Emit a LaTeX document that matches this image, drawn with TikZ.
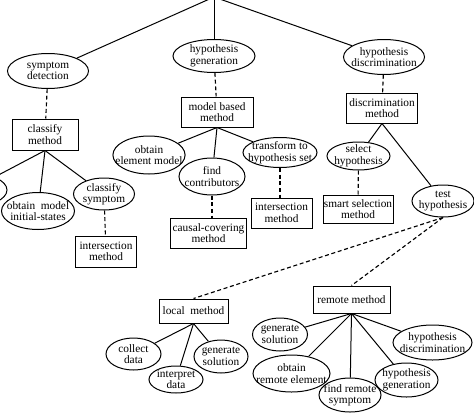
\documentclass[tikz,border=0pt]{standalone}
\usepackage{fontspec}
\setmainfont{Liberation Serif}
\usetikzlibrary{shapes.geometric}
\tikzset{
  ell/.style={draw, ellipse, inner sep=-6pt, align=center, font=\fontsize{8.5}{8.6}\selectfont},
  box/.style={draw, rectangle, inner sep=0pt, align=center, font=\fontsize{8.5}{8.6}\selectfont},
  link/.style={line width=0.75pt},
  dlink/.style={line width=0.85pt, dash pattern=on 3pt off 2pt},
}
\begin{document}
\begin{tikzpicture}[x=0.75pt,y=-0.75pt, line width=0.75pt]
\useasboundingbox (0,0) rectangle (474,414);
\clip (0,0) rectangle (474,414);
\coordinate (root) at (214,-3);
% level 1
\node[ell, minimum width=60.75pt, minimum height=26.25pt] (sd) at (48,71) {symptom\\detection};
\node[ell, minimum width=61.5pt, minimum height=24.75pt] (hg) at (214,56) {hypothesis\\generation};
\node[ell, minimum width=60.75pt, minimum height=26.25pt] (hd) at (384,57) {hypothesis\\discrimination};
% level 2
\node[box, minimum width=49.5pt, minimum height=23.25pt] (cm) at (45,134.5) {classify\\method};
\node[box, minimum width=54pt, minimum height=22.5pt] (mbm) at (217,112) {model based\\method};
\node[box, minimum width=53.25pt, minimum height=22.5pt] (dm) at (382,108) {discrimination\\method};
% classify children
\node[ell, minimum width=55.5pt, minimum height=25.5pt] (lp) at (-30,190) {};
\node[ell, minimum width=54.75pt, minimum height=27.75pt] (omi) at (38,211) {obtain\ \ model\\initial-states};
\node[ell, minimum width=45.75pt, minimum height=24pt] (cs) at (104,194) {classify\\symptom};
\node[box, minimum width=45.75pt, minimum height=23.25pt] (im1) at (106,251.5) {intersection\\method};
% model based children
\node[ell, minimum width=53.25pt, minimum height=28.5pt] (oem) at (149,155) {obtain\\element model};
\node[ell, minimum width=49.5pt, minimum height=27.75pt] (fc) at (212,176.5) {find\\contributors};
\node[ell, minimum width=55.5pt, minimum height=22.5pt] (th) at (280,152.5) {transform to\\hypothesis set};
\node[box, minimum width=57pt, minimum height=22.5pt] (ccm) at (208.5,233) {causal-covering\\method};
\node[box, minimum width=45.75pt, minimum height=22.5pt] (im2) at (281.5,213) {intersection\\method};
% discrimination children
\node[ell, minimum width=47.25pt, minimum height=21pt] (sh) at (358.5,156) {select\\hypothesis};
\node[box, minimum width=52.5pt, minimum height=21pt] (ssm) at (358,209) {smart selection\\method};
\node[ell, minimum width=46.5pt, minimum height=24pt] (test) at (443,201) {test\\hypothesis};
% methods
\node[box, minimum width=51.75pt, minimum height=18pt] (lm) at (193.5,311) {local\ \ method};
\node[box, minimum width=57.75pt, minimum height=20.25pt] (rm) at (351.5,299.5) {remote method};
% local children
\node[ell, minimum width=41.25pt, minimum height=24pt] (cd) at (133.5,354) {collect\\data};
\node[ell, minimum width=40.5pt, minimum height=20.25pt] (id) at (176,379.5) {interpret\\data};
\node[ell, minimum width=40.5pt, minimum height=24.75pt] (gs1) at (221,356.5) {generate\\solution};
% remote children
\node[ell, minimum width=41.25pt, minimum height=24.75pt] (gs2) at (280,334.5) {generate\\solution};
\node[ell, minimum width=57.75pt, minimum height=27.75pt] (ore) at (291.5,373.5) {obtain\\remote element};
\node[ell, minimum width=46.5pt, minimum height=25.5pt] (frs) at (350,395) {find remote\\symptom};
\node[ell, minimum width=47.25pt, minimum height=25.5pt] (hg2) at (406.5,380) {hypothesis\\generation};
\node[ell, minimum width=59.25pt, minimum height=26.25pt] (hd2) at (432.5,342.5) {hypothesis\\discrimination};
% connectors
\draw[link] (root) -- (sd);
\draw[link] (root) -- (hg);
\draw[link] (root) -- (hd);
\draw[dlink] (sd) -- (cm);
\draw[dlink] (hg) -- (mbm);
\draw[dlink] (hd) -- (dm);
\draw[link] (cm.south) -- (lp);
\draw[link] (cm.south) -- (omi);
\draw[link] (cm.south) -- (cs);
\draw[dlink] (cs) -- (im1);
\draw[link] (mbm.south) -- (oem);
\draw[link] (mbm.south) -- (fc);
\draw[link] (mbm.south) -- (th);
\draw[dlink] (fc) -- (ccm.north -| fc);
\draw[dlink] (th) -- (im2.north -| th);
\draw[link] (dm.south) -- (sh);
\draw[link] (dm.south) -- (test);
\draw[dlink] (sh) -- (ssm);
\draw[dlink] (test.south) -- (lm.north);
\draw[dlink] (test.south) -- (rm.north);
\draw[link] (lm.south) -- (cd);
\draw[link] (lm.south) -- (id);
\draw[link] (lm.south) -- (gs1);
\draw[link] (rm.south) -- (gs2);
\draw[link] (rm.south) -- (ore);
\draw[link] (rm.south) -- (frs);
\draw[link] (rm.south) -- (hg2);
\draw[link] (rm.south) -- (hd2);
\end{tikzpicture}
\end{document}
